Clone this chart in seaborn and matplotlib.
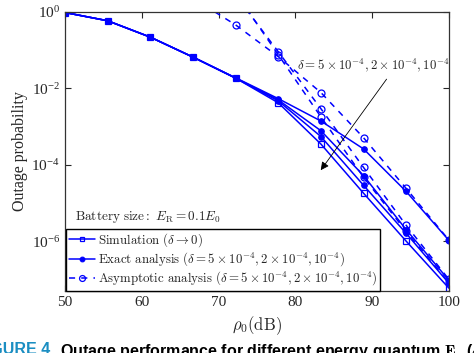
import numpy as np
import matplotlib
matplotlib.use("Agg")
import matplotlib.pyplot as plt
import seaborn as sns

# SNR grid (dB)
rho = [50, 55.56, 61.11, 66.67, 72.22, 77.78, 83.33, 88.89, 94.44, 100]
nan = np.nan

# Simulation (delta -> 0)
sim = [0.97, 0.59, 0.22, 0.066, 0.0186, 4.2e-3, 3.5e-4, 1.8e-5, 1.0e-6, 5.9e-8]
# Exact analysis, delta = 5e-4, 2e-4, 1e-4
exact_5 = [0.97, 0.59, 0.22, 0.066, 0.019, 5.4e-3, 1.4e-3, 2.6e-4, 2.0e-5, 1.05e-6]
exact_2 = [0.97, 0.59, 0.22, 0.066, 0.0186, 5.0e-3, 7.8e-4, 5.2e-5, 2.0e-6, 9.5e-8]
exact_1 = [0.97, 0.59, 0.22, 0.066, 0.0186, 4.7e-3, 5.5e-4, 2.9e-5, 1.6e-6, 7.9e-8]
# Asymptotic analysis, same deltas
asym_5 = [nan, nan, nan, 2.3, 0.46, 0.068, 7.8e-3, 5.1e-4, 2.4e-5, 1.07e-6]
asym_2 = [nan, nan, nan, nan, 2.75, 0.091, 2.95e-3, 8.5e-5, 2.6e-6, 1.0e-7]
asym_1 = [nan, nan, nan, nan, 3.2, 0.076, 1.8e-3, 4.7e-5, 1.8e-6, 8.3e-8]

deltas = '$\\delta=5\\times10^{-4},2\\times10^{-4},10^{-4}$'

sns.set_style("ticks")
plt.rcParams['font.family'] = ['Liberation Serif', 'DejaVu Serif']
plt.rcParams['mathtext.fontset'] = 'cm'

fig = plt.figure(figsize=(4.74, 3.53), dpi=100)
ax = fig.add_axes([0.137, 0.176, 0.810, 0.790])

blue = (0, 0, 1)
lw = 1.1

for i, ys in enumerate([exact_5, exact_2, exact_1]):
    sns.lineplot(x=rho, y=ys, ax=ax, color=blue, lw=lw, marker='o', ms=4,
                 markeredgecolor=blue, markerfacecolor=blue, markeredgewidth=0.8,
                 label='$\\mathrm{Exact\\ analysis}\\ (\\delta=5\\times10^{-4},2\\times10^{-4},10^{-4})$' if i == 0 else None)

for i, ys in enumerate([asym_5, asym_2, asym_1]):
    sns.lineplot(x=rho, y=ys, ax=ax, color=blue, lw=lw, linestyle=(0, (4, 4)), marker='o', ms=5,
                 markeredgecolor=blue, markerfacecolor='none', markeredgewidth=0.9,
                 label='$\\mathrm{Asymptotic\\ analysis}\\ (\\delta=5\\times10^{-4},2\\times10^{-4},10^{-4})$' if i == 0 else None)

sns.lineplot(x=rho, y=sim, ax=ax, color=blue, lw=lw, marker='s', ms=4,
             markeredgecolor=blue, markerfacecolor='none', markeredgewidth=0.9,
             label='$\\mathrm{Simulation}\\ (\\delta\\rightarrow0)$')

ax.set_yscale('log')
ax.set_xlim(50, 100)
ax.set_ylim(5e-8, 1)
ax.set_xticks([50, 60, 70, 80, 90, 100])
ax.set_yticks([1e0, 1e-2, 1e-4, 1e-6])
ax.yaxis.set_minor_locator(matplotlib.ticker.NullLocator())
ax.tick_params(direction='in', top=True, right=True, labelsize=11, length=4, width=0.8)
for s in ax.spines.values():
    s.set_linewidth(0.9)
    s.set_color('#333333')

ax.set_xlabel('$\\rho_0(\\mathrm{dB})$', fontsize=12, labelpad=4)
ax.set_ylabel('Outage probability', fontsize=11.5)
ax.yaxis.set_label_coords(-0.096, 0.5)

h, l = ax.get_legend_handles_labels()
order = [2, 0, 1]
leg = ax.legend([h[k] for k in order], [l[k] for k in order], loc='lower left',
                bbox_to_anchor=(0.004, 0.0), borderaxespad=0, fancybox=False,
                edgecolor='k', framealpha=1, fontsize=9.3, handlelength=2.0,
                handletextpad=0.25, labelspacing=0.12, borderpad=0.2, markerscale=0.85)
leg.get_frame().set_linewidth(1.0)

ax.text(0.025, 0.238, '$\\mathrm{Battery\\ size:}\\ E_\\mathrm{R}=0.1E_0$', transform=ax.transAxes,
        fontsize=9.5, ha='left', va='bottom')

ax.annotate('', xy=(83.1, 6.3e-5), xytext=(92.1, 2.0e-2),
            arrowprops=dict(arrowstyle='-|>', color='k', lw=0.6, mutation_scale=12))
ax.text(80.2, 4.1e-2, deltas, fontsize=9.3, ha='left', va='center')

fig.text(-0.05, 1 - 342 / 353, 'FIGURE 4', color='#1b8ec2', fontsize=11.5,
         fontweight='bold', family='Liberation Sans', va='top')
fig.text(60 / 474, 1 - 342 / 353,
         'Outage performance for different energy quantum $\\mathbf{E_q}$ ($\\mathbf{\\delta E_0}$)',
         color='k', fontsize=11.5, fontweight='bold', family='Liberation Sans', va='top')

fig.savefig('out.png', dpi=100)
